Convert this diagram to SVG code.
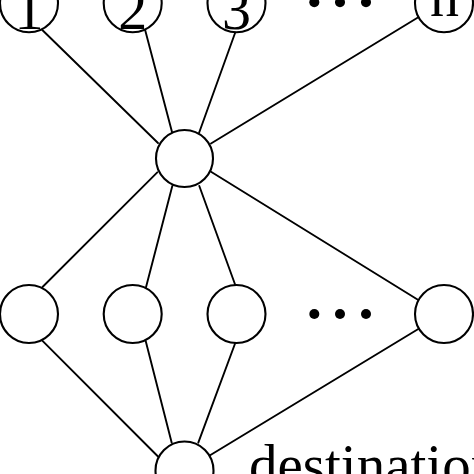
<svg xmlns="http://www.w3.org/2000/svg" width="474" height="474" viewBox="0 0 474 474">
<style>
.node circle{fill:#fff;stroke:#000;stroke-width:2.1}
.edge line{stroke:#000;stroke-width:1.9;stroke-linecap:round}
.lbl{font-family:"Liberation Serif","Times New Roman",serif;font-size:58px;fill:#000;text-anchor:middle}
.dest{font-family:"Liberation Serif","Times New Roman",serif;font-size:57px;fill:#000}
.dot{fill:#000}
</style>
<rect width="474" height="474" fill="#fff"/>
<g id="connectors" class="edge">
<line x1="42.3" y1="30" x2="158" y2="143"/>
<line x1="145" y1="29.5" x2="172" y2="132"/>
<line x1="236.5" y1="29" x2="199" y2="133"/>
<line x1="418.3" y1="17.3" x2="211" y2="143.5"/>
<line x1="157.3" y1="172.3" x2="42.5" y2="287"/>
<line x1="172.3" y1="186" x2="146" y2="287.3"/>
<line x1="199.3" y1="186" x2="236" y2="287"/>
<line x1="211" y1="171.7" x2="418.3" y2="300"/>
<line x1="42.3" y1="340.7" x2="158.5" y2="457"/>
<line x1="145.7" y1="341" x2="171.7" y2="442.7"/>
<line x1="236" y1="341" x2="198.3" y2="442.7"/>
<line x1="418.3" y1="329" x2="210.5" y2="455"/>
</g>
<g id="n1" class="node"><circle cx="29" cy="3.3" r="29"/><text class="lbl" x="29" y="29">1</text></g>
<g id="n2" class="node"><circle cx="132.7" cy="3.3" r="29"/><text class="lbl" x="132.7" y="28.5">2</text></g>
<g id="n3" class="node"><circle cx="236.5" cy="3.3" r="29"/><text class="lbl" x="236.5" y="28.5">3</text></g>
<g id="topdots"><circle class="dot" cx="314.3" cy="2.3" r="5"/><circle class="dot" cx="340" cy="2.3" r="5"/><circle class="dot" cx="366" cy="2.3" r="5"/></g>
<g id="nn" class="node"><circle cx="444" cy="3.3" r="29"/><text class="lbl" x="444.5" y="15.7">n</text></g>
<g id="hub" class="node"><circle cx="184.5" cy="158.5" r="28.5"/></g>
<g id="m1" class="node"><circle cx="29" cy="314" r="29"/></g>
<g id="m2" class="node"><circle cx="132.7" cy="314" r="29"/></g>
<g id="m3" class="node"><circle cx="236.5" cy="314" r="29"/></g>
<g id="middots"><circle class="dot" cx="314.3" cy="314" r="5"/><circle class="dot" cx="340" cy="314" r="5"/><circle class="dot" cx="366" cy="314" r="5"/></g>
<g id="mn" class="node"><circle cx="444" cy="314" r="29"/></g>
<g id="destination" class="node"><circle cx="184.5" cy="470.5" r="29"/><text class="dest" x="249" y="484">destination</text></g>
</svg>
